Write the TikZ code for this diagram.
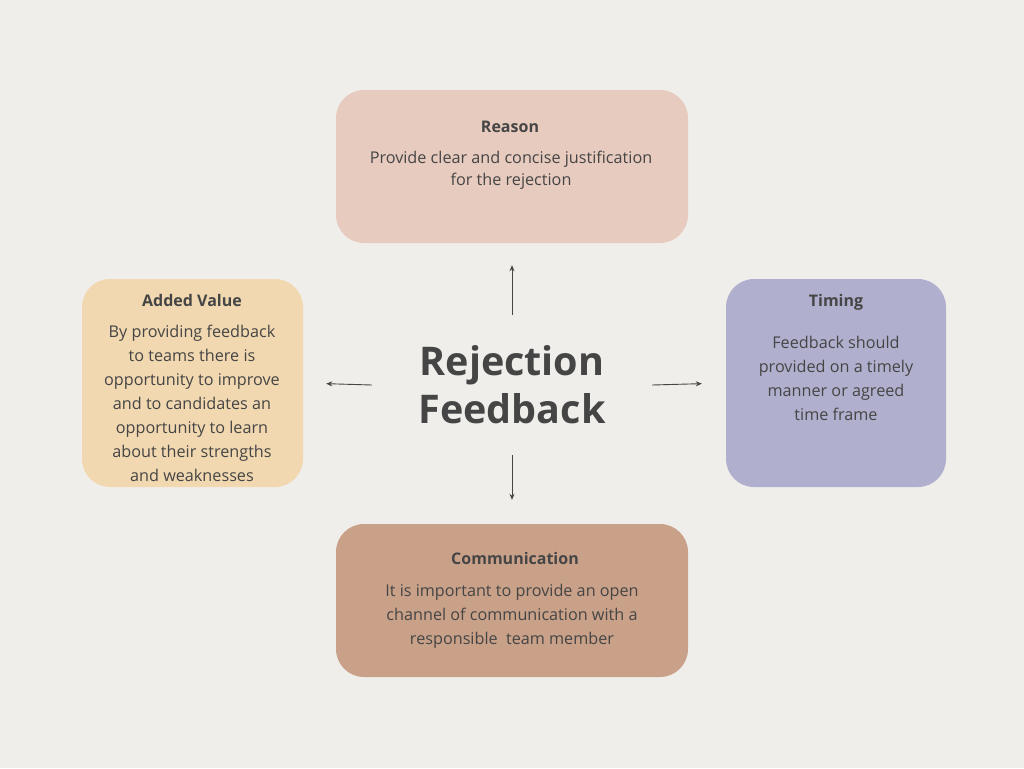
\documentclass[tikz,border=0pt]{standalone}
\usepackage{fontspec}
\setmainfont{Open Sans}
\usepackage{xcolor}
\usetikzlibrary{arrows.meta,positioning,shapes,calc}
\definecolor{paper}{HTML}{F0EEEA}
\definecolor{ink}{HTML}{454545}
\definecolor{reasonc}{HTML}{E8CBBF}
\definecolor{valuec}{HTML}{F1D8B0}
\definecolor{timingc}{HTML}{B0B0CE}
\definecolor{commc}{HTML}{C9A189}
\tikzset{
  card/.style = {draw = none, rounded corners = 28pt, inner sep = 0pt},
  head/.style = {anchor = north, align = center, text = ink, font = \fontsize{16}{22}\selectfont\bfseries},
  body/.style = {anchor = north, align = center, text = ink, font = \fontsize{16.2}{24}\selectfont},
  link/.style = {-{Stealth[length = 6pt, width = 5pt]}, line width = 0.9pt, ink},
}
\begin{document}
\begin{tikzpicture}[x = 1pt, y = -1pt]
    \fill[paper] (0,0) rectangle (1024,768);
    \useasboundingbox (0,0) rectangle (1024,768);
    \node[card, fill = reasonc, minimum width = 352pt, minimum height = 153pt] (reason) at (512,166.5) {};
    \node[card, fill = valuec, minimum width = 221pt, minimum height = 208pt] (value) at (192.5,383) {};
    \node[card, fill = timingc, minimum width = 220pt, minimum height = 208pt] (timing) at (836,383) {};
    \node[card, fill = commc, minimum width = 352pt, minimum height = 153pt] (comm) at (512,600.5) {};
    \node[minimum width = 280pt, minimum height = 140pt, align = center, text = ink,
          font = \fontsize{39.5}{48}\selectfont\bfseries] (ctr) at (512,385) {Rejection\\Feedback};
    \node[head] (reasont) at (510,118) {Reason};
    \node[body, font = \fontsize{16.2}{22}\selectfont] (reasonb) at (511,148) {Provide clear and concise justification\\for the rejection};
    \node[head] (valuet) at (192,291) {Added Value};
    \node[body] (valueb) at (192,322) {By providing feedback\\to teams there is\\opportunity to improve\\and to candidates an\\opportunity to learn\\about their strengths\\and weaknesses};
    \node[head] (timingt) at (836,291) {Timing};
    \node[body] (timingb) at (836,333) {Feedback should\\provided on a timely\\manner or agreed\\time frame};
    \node[head] (commt) at (515,549) {Communication};
    \node[body] (commb) at (512,581) {It is important to provide an open\\channel of communication with a\\responsible\ \ team member};
    \draw[link, shorten > = 22pt] (ctr.north) -- (reason.south);
    \draw[link, shorten > = 23pt] (ctr.west) -- (value.east);
    \draw[link, shorten > = 24pt] (ctr.east) -- (timing.west);
    \draw[link, shorten > = 24pt] (ctr.south) -- (comm.north);
\end{tikzpicture}
\end{document}
